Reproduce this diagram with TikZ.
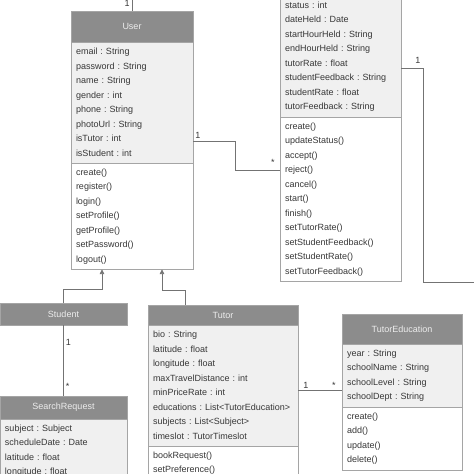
\documentclass[tikz,border=0pt]{standalone}
\usepackage{fontspec}
\setmainfont{Liberation Sans}
\usetikzlibrary{arrows.meta, positioning}
\definecolor{headgray}{RGB}{140,140,140}
\definecolor{attrgray}{RGB}{240,240,240}
\definecolor{linegray}{RGB}{165,165,165}
\definecolor{textgray}{RGB}{55,55,55}
\definecolor{wiregray}{RGB}{115,115,115}
\frenchspacing

\begin{document}
\begin{tikzpicture}[x=1pt, y=-1pt,
    hdr/.style={
        rectangle, anchor=north west, draw=linegray, fill=headgray,
        text=white!93!black, outer sep=0pt, line width=0.6pt,
        font=\fontsize{9}{11}\selectfont
    },
    attrs/.style={
        rectangle, draw=linegray, fill=attrgray, text=textgray,
        align=left, inner xsep=5pt, inner ysep=0pt, outer sep=0pt,
        line width=0.6pt, font=\fontsize{9}{14.5}\selectfont
    },
    meths/.style={attrs, fill=white},
    rows/.style={minimum height=#1*14.5pt+5pt},
    wire/.style={draw=wiregray, line width=0.6pt},
    inherit/.style={wire, -{Triangle[length=4.5pt, width=4.5pt]}},
    mult/.style={font=\fontsize{9}{11}\selectfont, text=textgray, inner sep=2pt}
]
\useasboundingbox (0,0) rectangle (474,474);
\clip (0,0) rectangle (474,474);

% ===== User =====
\node[hdr, minimum width=122pt, minimum height=31pt] (uhdr) at (71,11) {User};
\node[attrs, rows=8, text width=112pt, below=0pt of uhdr] (uattr)
    {email : String\\password : String\\name : String\\gender : int\\phone : String\\photoUrl : String\\isTutor : int\\isStudent : int};
\node[meths, rows=7, text width=112pt, below=0pt of uattr] (umeth)
    {create()\\register()\\login()\\setProfile()\\getProfile()\\setPassword()\\logout()};

% ===== Booking (top cut off) =====
\node[attrs, rows=8, text width=111pt, anchor=south west] (battr) at (280,117)
    {status : int\\dateHeld : Date\\startHourHeld : String\\endHourHeld : String\\tutorRate : float\\studentFeedback : String\\studentRate : float\\tutorFeedback : String};
\node[meths, rows=11, text width=111pt, below=0pt of battr] (bmeth)
    {create()\\updateStatus()\\accept()\\reject()\\cancel()\\start()\\finish()\\setTutorRate()\\setStudentFeedback()\\setStudentRate()\\setTutorFeedback()};

% ===== Student / SearchRequest =====
\node[hdr, minimum width=127pt, minimum height=22pt] (shdr) at (0,303) {Student};
\node[hdr, minimum width=127pt, minimum height=23pt] (rhdr) at (0,396) {SearchRequest};
\node[attrs, rows=4, text width=117pt, below=0pt of rhdr] (rattr)
    {subject : Subject\\scheduleDate : Date\\latitude : float\\longitude : float};

% ===== Tutor =====
\node[hdr, minimum width=150pt, minimum height=20pt] (thdr) at (148,305) {Tutor};
\node[attrs, rows=8, text width=140pt, below=0pt of thdr] (tattr)
    {bio : String\\latitude : float\\longitude : float\\maxTravelDistance : int\\minPriceRate : int\\educations : List<TutorEducation>\\subjects : List<Subject>\\timeslot : TutorTimeslot};
\node[meths, rows=2, text width=140pt, below=0pt of tattr] (tmeth)
    {bookRequest()\\setPreference()};

% ===== TutorEducation =====
\node[hdr, minimum width=120pt, minimum height=30pt] (tehdr) at (342,314) {TutorEducation};
\node[attrs, rows=4, text width=110pt, below=0pt of tehdr] (teattr)
    {year : String\\schoolName : String\\schoolLevel : String\\schoolDept : String};
\node[meths, rows=4, text width=110pt, below=0pt of teattr] (temeth)
    {create()\\add()\\update()\\delete()};

% ===== Connectors =====
\coordinate (topend) at (132,-3);
\coordinate (rightend) at (478,282);
\coordinate (tlink) at ([yshift=-5pt]tattr.east);

\draw[wire] (topend) -- node[mult, left, pos=0.45] {1} (uhdr.north);
\draw[wire] ([yshift=-38.5pt]uattr.east) node[mult, above right] {1}
    -- ++(42pt,0) |- ([yshift=29pt]bmeth.west) node[mult, above left, xshift=-3pt, yshift=2pt] {*};
\draw[wire] ([yshift=-11.5pt]battr.east) node[mult, above right, xshift=12pt, yshift=2pt] {1}
    -- ++(22pt,0) |- (rightend);
\draw[inherit] (shdr.north) -- ++(0,-14) -| ([xshift=-30pt]umeth.south);
\draw[inherit] ([xshift=-38pt]thdr.north) -- ++(0,-15) -| ([xshift=30pt]umeth.south);
\draw[wire] (shdr.south) -- node[mult, right, pos=0.24] {1}
    node[mult, right, pos=0.86] {*} (rhdr.north);
\draw[wire] (tlink) node[mult, above right, xshift=3pt] {1}
    -- (tlink -| teattr.west) node[mult, above left, xshift=-4pt] {*};

\end{tikzpicture}
\end{document}
